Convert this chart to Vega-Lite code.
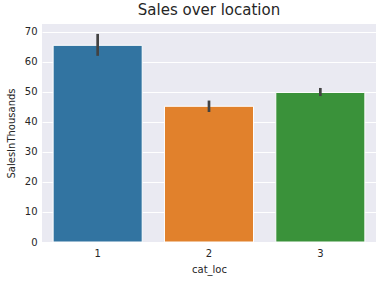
{
  "$schema": "https://vega.github.io/schema/vega-lite/v6.json",
  "autosize": {"type": "none"},
  "width": 334,
  "height": 218,
  "padding": {"left": 42, "top": 24, "right": 6, "bottom": 39},
  "background": "white",
  "title": {"text": "Sales over location", "fontSize": 15, "font": "DejaVu Sans", "fontWeight": "normal", "color": "#262626", "offset": 6, "anchor": "middle"},
  "config": {
    "view": {"fill": "#eaeaf2", "stroke": null},
    "axis": {"labelFont": "DejaVu Sans", "titleFont": "DejaVu Sans", "labelColor": "#262626", "titleColor": "#262626", "labelFontSize": 10, "titleFontSize": 10, "titleFontWeight": "normal", "domain": false, "ticks": false}
  },
  "data": {"values": [
    {"cat_loc": "1", "sales": 65.5, "lo": 62.0, "hi": 69.3},
    {"cat_loc": "2", "sales": 45.2, "lo": 43.3, "hi": 47.1},
    {"cat_loc": "3", "sales": 49.8, "lo": 48.6, "hi": 51.3}
  ]},
  "encoding": {
    "x": {"field": "cat_loc", "type": "nominal", "scale": {"paddingInner": 0.2, "paddingOuter": 0.1},
      "axis": {"labelAngle": 0, "labelPadding": 6, "title": "cat_loc", "titlePadding": 6, "grid": false}}
  },
  "layer": [
    {
      "mark": {"type": "bar", "stroke": "white", "strokeWidth": 1},
      "encoding": {
        "y": {"field": "sales", "type": "quantitative", "scale": {"domain": [0, 72.6], "nice": false},
          "axis": {"values": [0, 10, 20, 30, 40, 50, 60, 70], "labelOverlap": false, "title": "SalesInThousands", "labelPadding": 5, "titlePadding": 8, "grid": true, "gridColor": "white", "gridWidth": 1}},
        "color": {"field": "cat_loc", "type": "nominal", "scale": {"range": ["#3274a1", "#e1812c", "#3a923a"]}, "legend": null}
      }
    },
    {
      "mark": {"type": "rule", "color": "#424242", "strokeWidth": 2.7},
      "encoding": {
        "y": {"field": "lo", "type": "quantitative",
          "axis": {"values": [0, 10, 20, 30, 40, 50, 60, 70], "labelOverlap": false, "title": "SalesInThousands", "labelPadding": 5, "titlePadding": 8, "grid": true, "gridColor": "white", "gridWidth": 1}},
        "y2": {"field": "hi"}
      }
    }
  ]
}
